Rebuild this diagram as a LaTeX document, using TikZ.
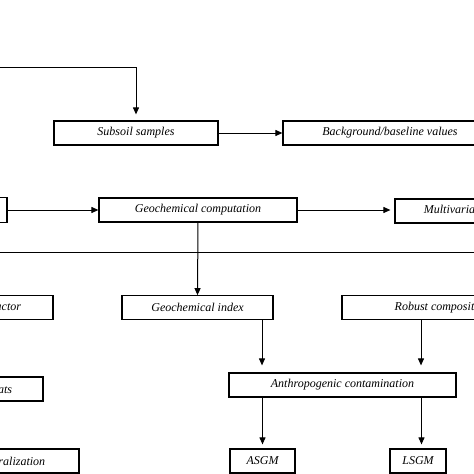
\documentclass[tikz,border=0pt]{standalone}
\usepackage{fontspec}
\setmainfont{Liberation Serif}
\usetikzlibrary{arrows.meta}
\tikzset{
  box/.style={draw, line width=1.2pt, inner sep=0pt, minimum height=24pt,
    font=\fontsize{12}{14}\selectfont\itshape},
  conn/.style={line width=1pt},
  arr/.style={conn, -{Triangle[length=7pt,width=6pt]}},
}
\begin{document}
\begin{tikzpicture}[x=1pt,y=-1pt]
\useasboundingbox (0,0) rectangle (474,474);
\clip (0,0) rectangle (474,474);
\fill[white] (0,0) rectangle (474,474);
% row 1
\node[box, minimum width=164pt] (subsoil) at (136,133) {Subsoil samples};
\node[box, minimum width=214pt] (backg) at (390,133) {Background/baseline values};
% row 2
\node[box, minimum width=157pt, minimum height=25pt] (lb2) at (-71.5,210) {};
\node[box, minimum width=198pt] (geocomp) at (198,210) {Geochemical computation};
\node[box, minimum width=160pt] (multi) at (475,211) {Multivariate analysis};
% row 3
\node[box, minimum width=151.6pt, minimum height=23.5pt] (enr) at (-22.8,307.5) {Enrichment factor};
\node[box, minimum width=151pt, minimum height=23.5pt] (geoind) at (197.5,307.5) {Geochemical index};
\node[box, minimum width=252pt, minimum height=23.5pt] (robust) at (468,307.5) {Robust compositional analysis};
% row 4
\node[box, minimum width=141.8pt] (threats) at (-27.9,389) {Potential threats};
\node[box, minimum width=227pt] (anthro) at (342.5,385) {Anthropogenic contamination};
% row 5
\node[box, minimum width=178pt] (miner) at (-10,461) {Natural mineralization};
\node[box, minimum width=65pt] (asgm) at (262.5,461) {ASGM};
\node[box, minimum width=56pt] (lsgm) at (418,461) {LSGM};
% helper coordinates
\coordinate (topstart) at (-10,67);
\coordinate (hlL) at (-10,252);
\coordinate (hlR) at (484,252);
\coordinate (ga) at ([xshift=-80.5pt]anthro.north);
\coordinate (ra) at ([xshift=78.5pt]anthro.north);
\coordinate (gb) at ([xshift=-80pt]anthro.south);
\coordinate (rb) at ([xshift=79pt]anthro.south);
% connectors
\draw[arr, shorten >=6pt] (topstart) -| (subsoil.north);
\draw[arr] (subsoil.east) -- (backg.west);
\draw[arr] (lb2.east) -- (geocomp.west);
\draw[arr, shorten >=4pt] (geocomp.east) -- (geocomp.east -| multi.west);
\draw[conn] (hlL) -- (hlR);
\draw[arr] (geocomp.south) -- (geoind.north);
\draw[arr, shorten >=7pt] (ga |- geoind.south) -- (ga);
\draw[arr, shorten >=7pt] (ra |- robust.south) -- (ra);
\draw[arr, shorten >=4pt] (gb) -- (gb |- asgm.north);
\draw[arr, shorten >=4pt] (rb) -- (rb |- lsgm.north);
\end{tikzpicture}
\end{document}
